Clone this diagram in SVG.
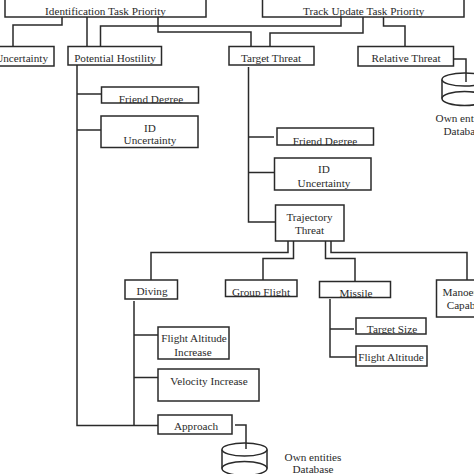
<svg xmlns="http://www.w3.org/2000/svg" width="474" height="474" viewBox="0 0 474 474">
<style>
.b{fill:#fff;stroke:#2a2a2a;stroke-width:1.5}
.c{fill:none;stroke:#2a2a2a;stroke-width:1.5}
text{font-family:"Liberation Serif","Times New Roman",serif;font-size:11.2px;fill:#2a2a2a;text-anchor:middle}
</style>
<defs>
<clipPath id="cFD1"><rect x="100" y="85" width="100" height="18"/></clipPath>
<clipPath id="cFD2"><rect x="275" y="126" width="100" height="19"/></clipPath>
<clipPath id="cGF"><rect x="225" y="280" width="73" height="16.5"/></clipPath>
<clipPath id="cMI"><rect x="319" y="281" width="72" height="16.5"/></clipPath>
<clipPath id="cTS"><rect x="356" y="318" width="71" height="16"/></clipPath>
<clipPath id="cDB"><rect x="430" y="120" width="44" height="15.5"/></clipPath>
<g id="cyl"><path class="b" d="M-22.500 6.500V25.500A22.500 7 0 0 0 22.500 25.500V6.500"/><ellipse class="b" cx="0" cy="6.500" rx="22.500" ry="6.500"/><path class="c" d="M-22.500 25.500A22.500 7 0 0 1 22.500 25.500"/></g>
</defs>
<g id="connectors">
<path class="c" d="M62 17V25H13V46M87 17V46M158 17V32H251V46M100.500 46V26H341V17M363 17V33H270V46M383.500 17V26H405V46"/>
<path class="c" d="M77 65V425.500H158M77 94H102M77 130H102"/>
<path class="c" d="M248.500 67V222H276M248.500 137H274M248.500 172.500H275"/>
<path class="c" d="M453.500 59H466V82"/>
<path class="c" d="M288 241V252.500H151V280M293.500 241V258.500H263V280M325.500 241V258.500H355V281M331 241V252.500H467V281"/>
<path class="c" d="M134 301V425.500M134 335H158M134 377.500H158"/>
<path class="c" d="M235 425H246V449"/>
<path class="c" d="M330 299V357H356M330 329H354"/>
</g>
<g id="n-identification"><rect class="b" x="5" y="-20" width="201" height="37"/><text x="105.500" y="15">Identification Task Priority</text></g>
<g id="n-track"><rect class="b" x="262.500" y="-20" width="201.500" height="37"/><text x="363.700" y="15">Track Update Task Priority</text></g>
<g id="n-uncertainty"><rect class="b" x="-30" y="46.500" width="84" height="19.500"/><text x="48" y="62" style="text-anchor:end">Uncertainty</text></g>
<g id="n-hostility"><rect class="b" x="68" y="46.500" width="93.500" height="18.500"/><text x="115" y="62">Potential Hostility</text></g>
<g id="n-target"><rect class="b" x="229" y="46.500" width="85" height="18.500"/><text x="271" y="62">Target Threat</text></g>
<g id="n-relative"><rect class="b" x="358" y="46.500" width="95.500" height="19.500"/><text x="406" y="62">Relative Threat</text></g>
<g id="n-db1"><use href="#cyl" transform="translate(464.500 73)"/><path class="c" d="M466 73V82"/><text x="464" y="122">Own entities</text><text x="464" y="135" clip-path="url(#cDB)">Database</text></g>
<g id="n-fd1"><rect class="b" x="101.500" y="87" width="97" height="16"/><text x="151" y="102.500" clip-path="url(#cFD1)">Friend Degree</text></g>
<g id="n-id1"><rect class="b" x="101" y="116" width="97" height="31.500"/><text x="150" y="131.500">ID</text><text x="150" y="144">Uncertainty</text></g>
<g id="n-fd2"><rect class="b" x="277" y="128" width="96.500" height="17"/><text x="325" y="144.500" clip-path="url(#cFD2)">Friend Degree</text></g>
<g id="n-id2"><rect class="b" x="274.500" y="158" width="96.500" height="32"/><text x="324" y="173">ID</text><text x="324" y="186.500">Uncertainty</text></g>
<g id="n-trajectory"><rect class="b" x="275.500" y="205" width="68.500" height="36"/><text x="309.500" y="221">Trajectory</text><text x="309.500" y="233.500">Threat</text></g>
<g id="n-diving"><rect class="b" x="125" y="280" width="52.500" height="19"/><text x="152" y="295">Diving</text></g>
<g id="n-group"><rect class="b" x="225.500" y="280" width="71.500" height="16.500"/><text x="261" y="295.500" clip-path="url(#cGF)">Group Flight</text></g>
<g id="n-missile"><rect class="b" x="319.500" y="281.500" width="71" height="16"/><text x="356" y="296.500" clip-path="url(#cMI)">Missile</text></g>
<g id="n-manoeuvre"><rect class="b" x="436.500" y="280" width="50" height="37"/><text x="468" y="295.700">Manoeuvre</text><text x="470" y="309">Capability</text></g>
<g id="n-target-size"><rect class="b" x="356" y="318" width="70" height="16"/><text x="392" y="333" clip-path="url(#cTS)">Target Size</text></g>
<g id="n-flight-alt"><rect class="b" x="356" y="346" width="71" height="20"/><text x="391" y="361">Flight Altitude</text></g>
<g id="n-fai"><rect class="b" x="158" y="327" width="71" height="32"/><text x="194" y="342">Flight Altitude</text><text x="193" y="356">Increase</text></g>
<g id="n-velocity"><rect class="b" x="158" y="369" width="101" height="32"/><text x="209" y="384.700">Velocity Increase</text></g>
<g id="n-approach"><rect class="b" x="158" y="415" width="74" height="19"/><text x="196" y="430">Approach</text></g>
<g id="n-db2"><use href="#cyl" transform="translate(244.500 443)"/><path class="c" d="M246 443V449"/><text x="313" y="461">Own entities</text><text x="313" y="473">Database</text></g>
</svg>
